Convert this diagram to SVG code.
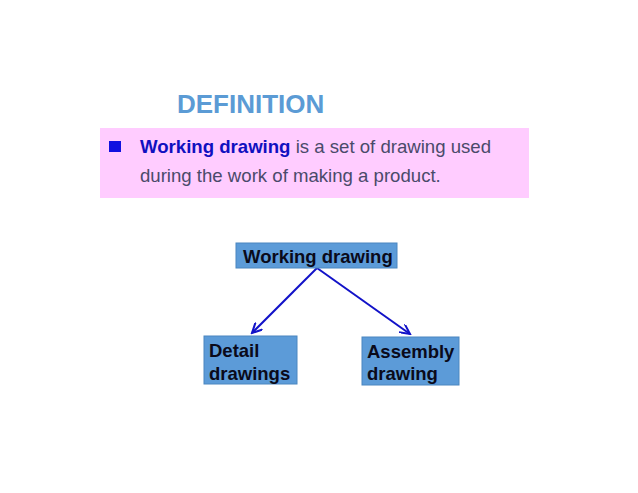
<svg xmlns="http://www.w3.org/2000/svg" width="638" height="493" viewBox="0 0 638 493">
<defs>
<style>
.t{font-family:"Liberation Sans",Arial,sans-serif;}
.box{fill:#5c9bd8;stroke:#4a86c0;stroke-width:1;}
.bt{font-family:"Liberation Sans",Arial,sans-serif;font-weight:bold;font-size:18.5px;fill:#0a0a1a;}
.conn{stroke:#1212c8;stroke-width:2;fill:none;marker-end:url(#ah);}
</style>
<marker id="ah" markerWidth="12" markerHeight="10" refX="10" refY="5" orient="auto" markerUnits="userSpaceOnUse">
<path d="M0,0 L10,5 L0,10" fill="none" stroke="#1212c8" stroke-width="2"/>
</marker>
</defs>
<rect width="638" height="493" fill="#ffffff"/>
<g id="title">
<text class="t" x="177" y="113" font-size="26" font-weight="bold" fill="#5b9bd5">DEFINITION</text>
</g>
<g id="definition">
<rect x="100" y="128" width="429" height="70" fill="#ffccff"/>
<rect x="109" y="141" width="12" height="11" fill="#1010e0"/>
<text class="t" x="140" y="153" font-size="18.6" fill="#4a4a6a"><tspan font-weight="bold" fill="#1010c0">Working drawing</tspan> is a set of drawing used</text>
<text class="t" x="140" y="182" font-size="18.6" fill="#4a4a6a">during the work of making a product.</text>
</g>
<g id="connectors">
<line class="conn" x1="317" y1="268" x2="252" y2="333"/>
<line class="conn" x1="317" y1="268" x2="410" y2="334"/>
</g>
<g id="working">
<rect class="box" x="236" y="243" width="161" height="25"/>
<text class="bt" x="243" y="263">Working drawing</text>
</g>
<g id="detail">
<rect class="box" x="204" y="336" width="93" height="48"/>
<text class="bt" x="209" y="357">Detail</text>
<text class="bt" x="209" y="380">drawings</text>
</g>
<g id="assembly">
<rect class="box" x="362" y="337" width="97" height="48"/>
<text class="bt" x="367" y="358">Assembly</text>
<text class="bt" x="367" y="380">drawing</text>
</g>
</svg>
